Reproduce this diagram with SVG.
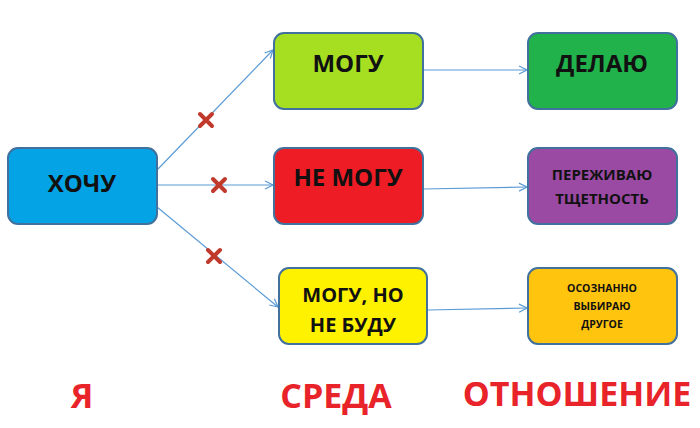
<svg xmlns="http://www.w3.org/2000/svg" width="700" height="428" viewBox="0 0 700 428">
<style>
.n{stroke:#41719c;stroke-width:2}
.t{font-family:"Open Sans","Liberation Sans",sans-serif;font-weight:bold;fill:#111;text-anchor:middle}
.c{stroke:#5b9bd5;stroke-width:1.2;fill:none;marker-end:url(#a)}
.x{stroke:#c0392b;stroke-width:4;stroke-linecap:round}
.b{font-family:"Open Sans","Liberation Sans",sans-serif;font-weight:bold;fill:#e8232a;text-anchor:middle;font-size:34px}
</style>
<defs><marker id="a" markerWidth="10" markerHeight="10" refX="9" refY="5" orient="auto" markerUnits="userSpaceOnUse"><path d="M1,1 L9,5 L1,9" fill="none" stroke="#5b9bd5" stroke-width="1.2"/></marker></defs>
<rect width="700" height="428" fill="#fff"/>
<g id="connectors">
<path class="c" d="M157,170 L273,50"/>
<path class="c" d="M157,185 L273,185"/>
<path class="c" d="M157,207 L278,307"/>
<path class="c" d="M423,70 L527,70"/>
<path class="c" d="M423,189 L527,187"/>
<path class="c" d="M427,310 L527,308"/>
<g><path class="x" d="M200,114 L212,126 M212,114 L200,126"/><path class="x" d="M213,179 L225,191 M225,179 L213,191"/><path class="x" d="M208,250 L220,262 M220,250 L208,262"/></g>
</g>
<g id="hochu"><rect class="n" x="8" y="148" width="149" height="76" rx="10" fill="#03a3e6"/><text class="t" x="82" y="192" font-size="24">ХОЧУ</text></g>
<g id="mogu"><rect class="n" x="274" y="33" width="149" height="76" rx="10" fill="#a6df22"/><text class="t" x="348" y="72" font-size="24">МОГУ</text></g>
<g id="nemogu"><rect class="n" x="274" y="148" width="149" height="76" rx="10" fill="#ee1c24"/><text class="t" x="348" y="186" font-size="24">НЕ МОГУ</text></g>
<g id="mogunebudu"><rect class="n" x="279" y="268" width="148" height="76" rx="10" fill="#fff200"/><text class="t" x="353" y="302" font-size="20">МОГУ, НО</text><text class="t" x="353" y="332" font-size="20">НЕ БУДУ</text></g>
<g id="delayu"><rect class="n" x="528" y="33" width="149" height="76" rx="10" fill="#21b24b"/><text class="t" x="602" y="72" font-size="24">ДЕЛАЮ</text></g>
<g id="perezhivayu"><rect class="n" x="528" y="148" width="149" height="76" rx="10" fill="#9a4aa3"/><text class="t" x="602" y="180" font-size="15">ПЕРЕЖИВАЮ</text><text class="t" x="602" y="204" font-size="15">ТЩЕТНОСТЬ</text></g>
<g id="osoznanno"><rect class="n" x="528" y="268" width="149" height="76" rx="10" fill="#fec40e"/><text class="t" x="602" y="292" font-size="10.5">ОСОЗНАННО</text><text class="t" x="602" y="310" font-size="10.5">ВЫБИРАЮ</text><text class="t" x="602" y="328" font-size="10.5">ДРУГОЕ</text></g>
<g id="labels"><text class="b" x="82" y="408">Я</text><text class="b" x="336" y="408">СРЕДА</text><text class="b" x="577" y="406">ОТНОШЕНИЕ</text></g>
</svg>
